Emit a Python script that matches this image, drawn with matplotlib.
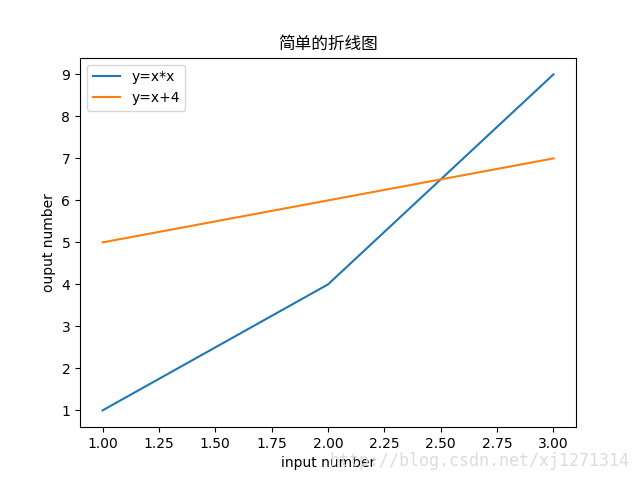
import matplotlib
matplotlib.use("Agg")
import matplotlib.pyplot as plt

x = [1, 2, 3]
y_sq = [1, 4, 9]
y_lin = [5, 6, 7]

fig, ax = plt.subplots(figsize=(6.4, 4.8), dpi=100)
ax.plot(x, y_sq, label="y=x*x")
ax.plot(x, y_lin, label="y=x+4")
ax.set_title("简单的折线图", family=["Noto Sans CJK SC", "DejaVu Sans"])
ax.set_xlabel("input number")
ax.set_ylabel("ouput number")
ax.legend(loc="upper left")
fig.text(0.983, 0.04, "http://blog.csdn.net/xj1271314", ha="right", va="center",
         color="#dcdcdc", fontsize=12, family="DejaVu Sans Mono")
fig.savefig("out.png")
